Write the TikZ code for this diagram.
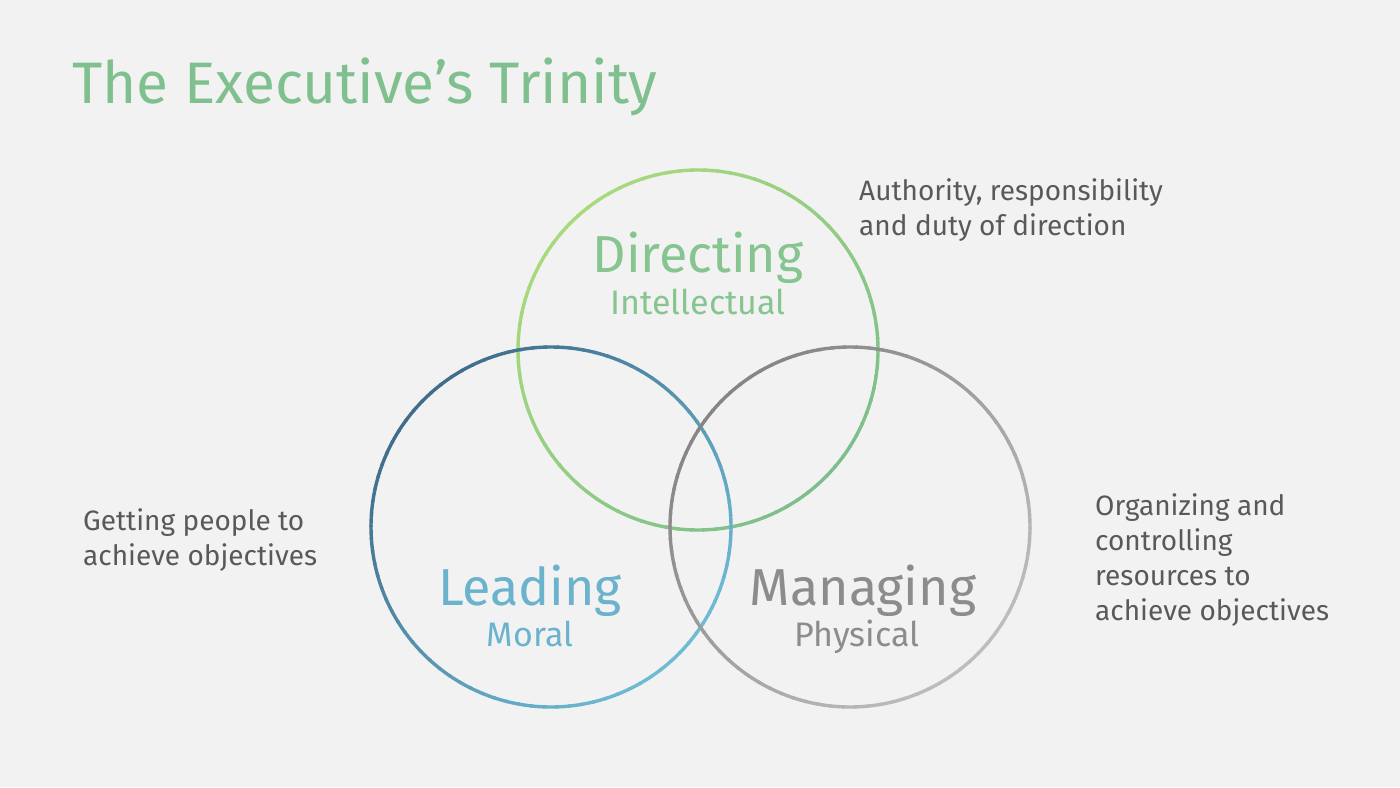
\documentclass[tikz,border=0pt]{standalone}
\usepackage{fontspec}
\setmainfont{Fira Sans}
\usetikzlibrary{positioning}
\definecolor{bg}{HTML}{F2F2F2}
\definecolor{title}{HTML}{80C08F}
\definecolor{body}{HTML}{595959}
\definecolor{dirA}{HTML}{A8DA7C}
\definecolor{dirB}{HTML}{7DBE8C}
\definecolor{leadA}{HTML}{3F6D8B}
\definecolor{leadB}{HTML}{6FBCD5}
\definecolor{manA}{HTML}{858585}
\definecolor{manB}{HTML}{BEBEBE}
\definecolor{dirtext}{HTML}{86C490}
\definecolor{leadtext}{HTML}{6BB3CD}
\definecolor{mantext}{HTML}{8C8C8C}
\newcommand{\gradring}[4]{%
\foreach \a in {0,4,...,356}{%
\pgfmathtruncatemacro\mix{100*(1-cos(\a+2-225))/2}%
\colorlet{ringtmp}{#4!\mix!#3}%
\draw[ring,ringtmp] (#1) ++(\a:#2) arc[start angle=\a,end angle=\a+4.6,radius=#2];}}

\begin{document}
\begin{tikzpicture}[x=1pt,y=-1pt,ring/.style={line width=3.4pt},
big/.style={anchor=base,font=\fontsize{52}{60}\selectfont},
small/.style={anchor=base,font=\fontsize{34}{40}\selectfont},
note/.style={anchor=base west,align=left,text=body,inner sep=0pt,font=\fontsize{28}{35}\selectfont}]
\fill[bg] (0,0) rectangle (1400,787);
\useasboundingbox (0,0) rectangle (1400,787);
\node[anchor=base west,inner sep=0pt,text=title,font=\fontsize{58.5}{66}\selectfont] (head) at (72,103){The Executive’s Trinity};
\coordinate (dir) at (698,350);\coordinate (lead) at (551,527);\coordinate (man) at (850,527);
\gradring{dir}{180}{dirA}{dirB}
\gradring{lead}{180}{leadA}{leadB}
\gradring{man}{180}{manA}{manB}
\node[big,text=dirtext] (dirt) at (698,272){Directing};
\node[small,text=dirtext] (dirs) at (698,314){Intellectual};
\node[big,text=leadtext] (leadt) at (530,605){Leading};
\node[small,text=leadtext] (leads) at (530,646){Moral};
\node[big,text=mantext] (mant) at (863,605){Managing};
\node[small,text=mantext] (mans) at (857,646){Physical};
% base anchor of a multi-line note sits on its last line
\node[note] (dirn) at (859,235){Authority, responsibility\\and duty of direction};
\node[note] (leadn) at (83,565){Getting people to\\achieve objectives};
\node[note] (mann) at (1095,620){Organizing and\\controlling\\resources to\\achieve objectives};
\end{tikzpicture}
\end{document}
